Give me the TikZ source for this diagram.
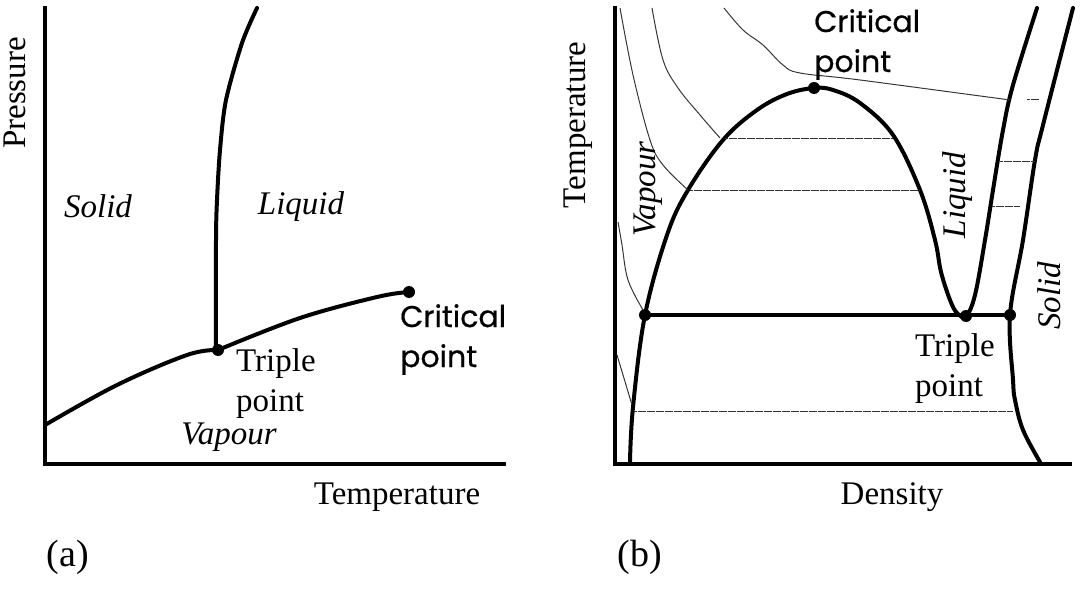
\documentclass[tikz,border=0pt]{standalone}
\usepackage{fontspec}
\setmainfont{Liberation Serif}
\newfontfamily\geofont[FakeBold=0.6]{Poppins}
\tikzset{
  achse/.style={line width=4pt, line cap=rect},
  kurve/.style={line width=4pt, line cap=round},
  duenn/.style={line width=1pt, black!80, dash pattern=on 1.5pt off 0.3pt},
  punkt/.style={circle, fill=black, inner sep=0pt, minimum size=12pt},
  serif/.style={font=\fontsize{33}{40}\selectfont, align=left, inner sep=0pt},
  bildnr/.style={font=\fontsize{38}{40}\selectfont, inner sep=0pt},
  phase/.style={font=\fontsize{33}{38}\selectfont\itshape, inner sep=0pt},
  kritisch/.style={font=\fontsize{30}{40}\geofont, align=left, inner sep=0pt}
}
\begin{document}
\begin{tikzpicture}[x=1pt, y=-1pt]
\useasboundingbox (0,0) rectangle (1091,609);

% Punkte
\node[punkt] (tripa) at (218,350) {};
\node[punkt] (krita) at (409,292) {};
\node[punkt] (gas) at (645,315) {};
\node[punkt] (tripb) at (966,316) {};
\node[punkt] (fest) at (1010,315) {};
\node[punkt] (kritb) at (814,88) {};

% Bild (a): Achsen und Kurven
\draw[achse] (45,8) -- (45,464) -- (504,464);
\draw[kurve] plot[smooth, tension=0.6] coordinates {(45,425) (117,385) (187,355) (tripa)};
\draw[kurve] plot[smooth, tension=0.6] coordinates {(tripa) (300,318) (377,297) (krita)};
\draw[kurve] plot[smooth, tension=0.5] coordinates {(216,350) (216,240) (217,200) (220,150) (226,100) (242,43) (257,8)};

% Bild (b): Achsen und Kurven
\draw[achse] (615,8) -- (615,464) -- (1070,464);
\draw[kurve] (gas) -- (fest);
\draw[kurve] plot[smooth, tension=0.6] coordinates {(630,462) (633,407) (gas) (667,235) (688,190) (723,140) (757,110) (787,94) (kritb) (833,90) (860,103) (893,135) (920,190) (935,240) (941,272) (950,300) (957,313) (tripb) (975,295) (985,240) (993,190) (1003,130) (1013,85) (1037,8)};
\draw[kurve] plot[smooth, tension=0.6] coordinates {(1073,8) (1043,125) (1035,160) (1023,240) (fest) (1013,380) (1015,400) (1023,430) (1040,462)};

% Isothermen
\draw[duenn] plot[smooth, tension=0.6] coordinates {(724,8) (743,30) (763,45) (783,65) (800,73) (860,80) (1010,100)};
\draw[duenn] plot[smooth, tension=0.6] coordinates {(652,8) (663,60) (678,88) (700,115) (720,138)};
\draw[duenn] plot[smooth, tension=0.6] coordinates {(620,8) (633,75) (650,140) (663,165) (688,190)};
\draw[duenn] plot[smooth, tension=0.6] coordinates {(618,222) (622,245) (628,280) (643,310)};
\draw[duenn] (617,355) -- (632,405);
\foreach \xa/\xb/\yy in {725/893/139, 690/920/191, 634/1013/411, 1000/1035/162, 992/1020/207, 1027/1038/100} {
  \draw[duenn] (\xa,\yy) -- (\xb,\yy);
}

% Beschriftung (a)
\node[serif, rotate=90] (ylaba) at (15,93) {Pressure};
\node[phase] (solida) at (98,206) {Solid};
\node[phase] (liquida) at (301,207) {Liquid};
\node[phase] (vapoura) at (229,437) {Vapour};
\node[serif, anchor=north west] (tripatext) at (236,348) {Triple\\point};
\node[kritisch, anchor=north west] (kritatext) at (400,304) {Critical\\point};
\node[serif] (xlaba) at (397,497) {Temperature};
\node[bildnr] (laba) at (68,557) {(a)};

% Beschriftung (b)
\node[serif, rotate=90] (ylabb) at (578,125) {Temperature};
\node[phase, rotate=90] (vapourb) at (648,189) {Vapour};
\node[phase, rotate=90] (liquidb) at (958,195) {Liquid};
\node[phase, rotate=90] (solidb) at (1049,296) {Solid};
\node[serif, anchor=north west] (tripbtext) at (915,333) {Triple\\point};
\node[kritisch, anchor=north west] (kritbtext) at (814,9) {Critical\\point};
\node[serif] (xlabb) at (892,497) {Density};
\node[bildnr] (labb) at (640,557) {(b)};

\end{tikzpicture}
\end{document}
